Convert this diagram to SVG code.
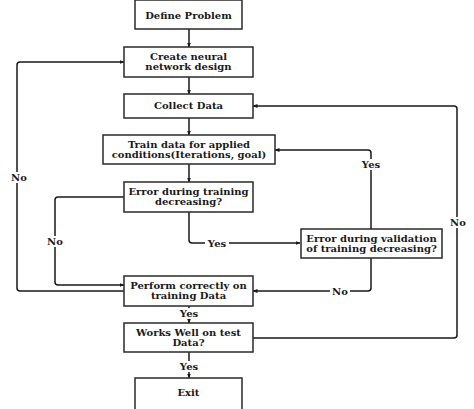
<svg xmlns="http://www.w3.org/2000/svg" width="474" height="409" viewBox="0 0 474 409">
<style>
.box{fill:#fff;stroke:#2a2a2a;stroke-width:1.5}
.t{font-family:"DejaVu Serif","Liberation Serif",serif;font-weight:bold;font-size:10px;fill:#1a1a1a;text-anchor:middle}
.c{fill:none;stroke:#1a1a1a;stroke-width:1.5}
.lb{font-family:"DejaVu Serif","Liberation Serif",serif;font-weight:bold;font-size:10px;fill:#1a1a1a;text-anchor:middle}
</style>
<defs>
<marker id="ah" viewBox="0 0 10 10" refX="9" refY="5" markerWidth="5" markerHeight="5" orient="auto" markerUnits="userSpaceOnUse">
<path d="M0,1 L10,5 L0,9 z" fill="#1a1a1a"/>
</marker>
</defs>
<rect x="0" y="0" width="474" height="409" fill="#fff"/>
<g id="connectors">
<line class="c" x1="189" y1="29" x2="189" y2="47" marker-end="url(#ah)"/>
<line class="c" x1="189" y1="77" x2="189" y2="94" marker-end="url(#ah)"/>
<line class="c" x1="189" y1="118" x2="189" y2="135" marker-end="url(#ah)"/>
<line class="c" x1="189" y1="164" x2="189" y2="182" marker-end="url(#ah)"/>
<path class="c" d="M189,212 V240 Q189,243 192,243 H300" marker-end="url(#ah)"/>
<path class="c" d="M371,229 V153 Q371,150 368,150 H275" marker-end="url(#ah)"/>
<path class="c" d="M371,258 V288 Q371,291 368,291 H253" marker-end="url(#ah)"/>
<path class="c" d="M124,197 H58 Q55,197 55,200 V282 Q55,285 58,285 H124" marker-end="url(#ah)"/>
<path class="c" d="M124,291 H20 Q17,291 17,288 V65 Q17,62 20,62 H124" marker-end="url(#ah)"/>
<line class="c" x1="189" y1="306" x2="189" y2="323" marker-end="url(#ah)"/>
<path class="c" d="M253,338 H454 Q457,338 457,335 V109 Q457,106 454,106 H253" marker-end="url(#ah)"/>
<line class="c" x1="189" y1="352" x2="189" y2="378" marker-end="url(#ah)"/>
<rect x="205" y="238" width="24" height="11" fill="#fff"/>
<text class="lb" x="217" y="247">Yes</text>
<rect x="359" y="159" width="24" height="11" fill="#fff"/>
<text class="lb" x="371" y="168">Yes</text>
<rect x="330" y="286" width="20" height="11" fill="#fff"/>
<text class="lb" x="340" y="295">No</text>
<rect x="45" y="236" width="20" height="11" fill="#fff"/>
<text class="lb" x="55" y="245">No</text>
<rect x="8" y="172" width="20" height="11" fill="#fff"/>
<text class="lb" x="19" y="181">No</text>
<rect x="448" y="217" width="19" height="11" fill="#fff"/>
<text class="lb" x="458" y="226">No</text>
<rect x="177" y="308" width="24" height="11" fill="#fff"/>
<text class="lb" x="189" y="317">Yes</text>
<rect x="177" y="361" width="24" height="11" fill="#fff"/>
<text class="lb" x="189" y="370">Yes</text>
</g>
<g id="define">
<rect class="box" x="135" y="0" width="107" height="29"/>
<text class="t" x="188.5" y="19">Define Problem</text>
</g>
<g id="create">
<rect class="box" x="124" y="47" width="129" height="30"/>
<text class="t" x="188.5" y="60">Create neural</text>
<text class="t" x="188.5" y="70">network design</text>
</g>
<g id="collect">
<rect class="box" x="124" y="94" width="129" height="24"/>
<text class="t" x="188.5" y="109">Collect Data</text>
</g>
<g id="train">
<rect class="box" x="103" y="135" width="172" height="29"/>
<text class="t" x="189" y="148">Train data for applied</text>
<text class="t" x="189" y="158">conditions(Iterations, goal)</text>
</g>
<g id="errtrain">
<rect class="box" x="124" y="182" width="129" height="30"/>
<text class="t" x="188.5" y="195">Error during training</text>
<text class="t" x="188.5" y="205">decreasing?</text>
</g>
<g id="errval">
<rect class="box" x="301" y="229" width="141" height="29"/>
<text class="t" x="371.5" y="242">Error during validation</text>
<text class="t" x="371.5" y="252">of training decreasing?</text>
</g>
<g id="perform">
<rect class="box" x="124" y="276" width="129" height="30"/>
<text class="t" x="188.5" y="289">Perform correctly on</text>
<text class="t" x="188.5" y="299">training Data</text>
</g>
<g id="works">
<rect class="box" x="124" y="323" width="129" height="29"/>
<text class="t" x="188.5" y="336">Works Well on test</text>
<text class="t" x="188.5" y="346">Data?</text>
</g>
<g id="exit">
<rect class="box" x="135" y="378" width="107" height="33"/>
<text class="t" x="188.5" y="396">Exit</text>
</g>
</svg>
